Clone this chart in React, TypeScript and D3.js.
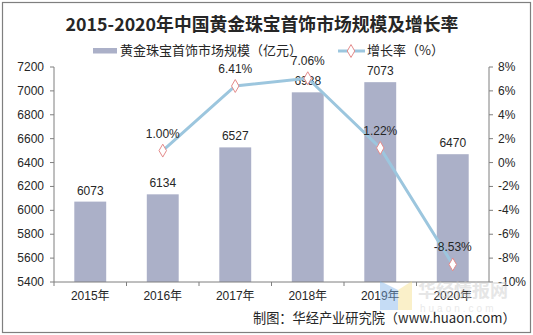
import { scaleBand, scaleLinear, line, symbol, symbolDiamond } from "d3";

const YEARS = ["2015年", "2016年", "2017年", "2018年", "2019年", "2020年"];
const MARKET_SIZE = [6073, 6134, 6527, 6988, 7073, 6470];
const GROWTH_YEARS = ["2016年", "2017年", "2018年", "2019年", "2020年"];
const GROWTH_RATE = [1.0, 6.41, 7.06, 1.22, -8.53];
const LEFT_TICKS = [5400, 5600, 5800, 6000, 6200, 6400, 6600, 6800, 7000, 7200];
const RIGHT_TICKS = [-10, -8, -6, -4, -2, 0, 2, 4, 6, 8];

const W = 533;
const H = 335;
const PLOT = { left: 54, right: 489, top: 67, bottom: 282 };

const BAR_COLOR = "#abb0c8";
const LINE_COLOR = "#9cc6de";
const MARKER_STROKE = "#e48a8a";
const AXIS_COLOR = "#7f7f7f";
const TEXT_COLOR = "#262626";
const SANS = "'Liberation Sans', Arial, 'Noto Sans CJK SC', sans-serif";
const CJK = "'Noto Sans CJK SC', 'Liberation Sans', sans-serif";

export default function App() {
  const x = scaleBand<string>()
    .domain(YEARS)
    .range([PLOT.left, PLOT.right])
    .paddingInner(0.56)
    .paddingOuter(0.28);
  const yLeft = scaleLinear().domain([5400, 7200]).range([PLOT.bottom, PLOT.top]);
  const yRight = scaleLinear().domain([-10, 8]).range([PLOT.bottom, PLOT.top]);
  const cx = (year: string) => (x(year) ?? 0) + x.bandwidth() / 2;
  const step = (PLOT.right - PLOT.left) / YEARS.length;

  const growthPoints = GROWTH_YEARS.map((year, i) => ({ year, value: GROWTH_RATE[i] }));
  const path = line<{ year: string; value: number }>()
    .x((d) => cx(d.year))
    .y((d) => yRight(d.value))(growthPoints);
  const diamond = symbol().type(symbolDiamond).size(48)() ?? "";

  return (
    <svg
      width={W}
      height={H}
      style={{ position: "fixed", left: 0, top: 0, background: "#fff" }}
    >
      <rect x={2.5} y={2.5} width={528} height={330} fill="#fff" stroke={AXIS_COLOR} strokeWidth={1.2} />

      <text
        x={262}
        y={31}
        textAnchor="middle"
        fontFamily={CJK}
        fontWeight={700}
        fontSize={17.8}
        fill={TEXT_COLOR}
      >
        2015-2020年中国黄金珠宝首饰市场规模及增长率
      </text>

      {/* legend */}
      <rect x={93} y={48} width={24} height={5.5} fill={BAR_COLOR} />
      <text x={120} y={55} fontFamily={CJK} fontSize={13} fill={TEXT_COLOR}>
        黄金珠宝首饰市场规模（亿元）
      </text>
      <line x1={338} x2={365} y1={51} y2={51} stroke={LINE_COLOR} strokeWidth={3} />
      <path d={diamond} transform="translate(351,51)" fill="#fff" stroke={MARKER_STROKE} strokeWidth={1} />
      <text x={367} y={55} fontFamily={CJK} fontSize={13} fill={TEXT_COLOR}>
        增长率（%）
      </text>

      {/* bars */}
      {YEARS.map((year, i) => (
        <g key={year}>
          <rect
            x={x(year)}
            y={yLeft(MARKET_SIZE[i])}
            width={x.bandwidth()}
            height={PLOT.bottom - yLeft(MARKET_SIZE[i])}
            fill={BAR_COLOR}
          />
          <text
            x={cx(year)}
            y={yLeft(MARKET_SIZE[i]) - 7}
            textAnchor="middle"
            fontFamily={SANS}
            fontSize={12}
            fill={TEXT_COLOR}
          >
            {MARKET_SIZE[i]}
          </text>
        </g>
      ))}

      {/* left axis */}
      <line x1={PLOT.left} x2={PLOT.left} y1={PLOT.top} y2={PLOT.bottom} stroke={AXIS_COLOR} />
      {LEFT_TICKS.map((t) => (
        <g key={t} transform={`translate(0,${yLeft(t)})`}>
          <line x1={PLOT.left - 4} x2={PLOT.left} stroke={AXIS_COLOR} />
          <text x={44} y={4} textAnchor="end" fontFamily={SANS} fontSize={12} fill={TEXT_COLOR}>
            {t}
          </text>
        </g>
      ))}

      {/* right axis */}
      <line x1={PLOT.right} x2={PLOT.right} y1={PLOT.top} y2={PLOT.bottom} stroke={AXIS_COLOR} />
      {RIGHT_TICKS.map((t) => (
        <g key={t} transform={`translate(0,${yRight(t)})`}>
          <line x1={PLOT.right} x2={PLOT.right + 4} stroke={AXIS_COLOR} />
          <text x={498} y={4} fontFamily={SANS} fontSize={12} fill={TEXT_COLOR}>
            {t}%
          </text>
        </g>
      ))}

      {/* category axis */}
      <line x1={PLOT.left} x2={PLOT.right} y1={PLOT.bottom} y2={PLOT.bottom} stroke={AXIS_COLOR} />
      {YEARS.map((year, i) => (
        <line
          key={`tick-${year}`}
          x1={PLOT.left + step * i}
          x2={PLOT.left + step * i}
          y1={PLOT.bottom}
          y2={PLOT.bottom + 4}
          stroke={AXIS_COLOR}
        />
      ))}
      {YEARS.map((year) => (
        <text
          key={`label-${year}`}
          x={cx(year)}
          y={300}
          textAnchor="middle"
          fontFamily={SANS}
          fontSize={12}
          fill={TEXT_COLOR}
        >
          {year}
        </text>
      ))}

      {/* growth rate line */}
      <path d={path ?? ""} fill="none" stroke={LINE_COLOR} strokeWidth={3} />
      {growthPoints.map((d) => (
        <g key={`pt-${d.year}`}>
          <path
            d={diamond}
            transform={`translate(${cx(d.year)},${yRight(d.value)})`}
            fill="#fff"
            stroke={MARKER_STROKE}
            strokeWidth={1}
          />
          <text
            x={cx(d.year)}
            y={yRight(d.value) - 13}
            textAnchor="middle"
            fontFamily={SANS}
            fontSize={12}
            fill={TEXT_COLOR}
          >
            {d.value.toFixed(2)}%
          </text>
        </g>
      ))}

      {/* watermark */}
      <g opacity={0.45}>
        <path d="M380,281 L398,290 L398,310 L380,310 Z" fill="#7fb3ea" />
        <path d="M398,290 L412,281 L412,310 L398,310 Z" fill="#f6e08a" />
        <text x={418} y={297} fontFamily={CJK} fontWeight={700} fontSize={18} fill="#c8c8c8">
          华经情报网
        </text>
        <text x={420} y={312} fontFamily={SANS} fontSize={10} letterSpacing={3} fill="#d0d0d0">
          huaon.com
        </text>
      </g>

      <text x={253} y={323} fontFamily={CJK} fontSize={13.2} fill={TEXT_COLOR}>
        制图：华经产业研究院（www.huaon.com）
      </text>
    </svg>
  );
}
